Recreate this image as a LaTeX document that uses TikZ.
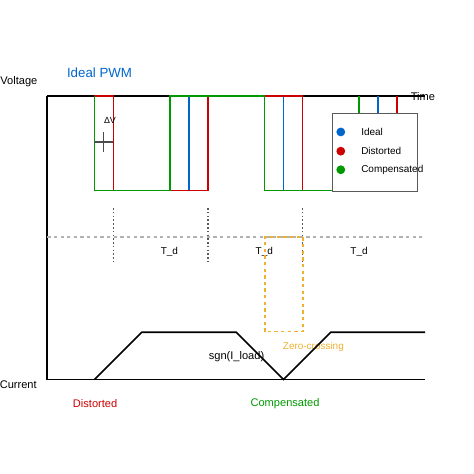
\documentclass[tikz,border=0pt]{standalone}
\usepackage{fontspec}
\setmainfont{Liberation Sans}
\usepackage{color}
\usepackage{tikz}
\usetikzlibrary{positioning}
\definecolor{idealblue}{RGB}{0,102,204}
\definecolor{distred}{RGB}{204,0,0}
\definecolor{compgreen}{RGB}{0,153,0}
\definecolor{zcorange}{RGB}{240,176,48}
\tikzset{
  axisline/.style={line width=1.7pt},
  wave/.style={line width=1.5pt},
  legdot/.style={circle, fill=#1, minimum size=0.28cm, inner sep=0pt},
  deadmark/.style={dotted, line width=1.4pt, gray!70!black},
}

\begin{document}
\begin{tikzpicture}
			\useasboundingbox (0,0) rectangle (15.05,15.05);
			% axes
			\draw[axisline] (1.5,12) -- (13.5,12);
			\draw[axisline] (1.5,12) -- (1.5,3) -- (13.5,3);
			\draw (1.31,12.46) node[anchor=east] (voltage) {Voltage};
			\draw (1.29,2.83) node[anchor=east] (current) {Current};
			\draw (13.43,12.0) node (time) {Time};
			\draw (3.16,12.74) node[text=idealblue] (idealpwm) {\large Ideal PWM};
			
			% gate signals
			\draw[wave, idealblue] (3,12) -- (3,9) -- (6,9) -- (6,12) -- (9,12) -- (9,9) -- (12,9) -- (12,12);
			\draw[wave, distred] (3,12) -- (3.6,12) -- (3.6,9) -- (6.6,9) -- (6.6,12) -- (9.6,12) -- (9.6,9) -- (12.6,9) -- (12.6,12);
			\draw[wave, compgreen] (3,12) -- (3,9) -- (5.4,9) -- (5.4,12) -- (8.4,12) -- (8.4,9) -- (11.4,9) -- (11.4,12);
			
			\draw (3.49,11.24) node (deltav) {\footnotesize ΔV};
			\draw[gray!60!black, line width=1pt] (3,10.54) -- (3.6,10.54);
			\draw[gray!60!black, line width=1pt] (3.3,10.86) -- (3.3,10.22);
			
			% legend
			\draw[fill=white, draw=gray!70!black, line width=1pt] (10.55,8.98) rectangle (13.25,11.45);
			\node[legdot=idealblue] (dotideal) at (10.82,10.86) {};
			\node[legdot=distred] (dotdist) at (10.82,10.25) {};
			\node[legdot=compgreen] (dotcomp) at (10.82,9.66) {};
			\node[right=0.38cm of dotideal] (legideal) {\small Ideal};
			\node[right=0.38cm of dotdist] (legdist) {\small Distorted};
			\node[right=0.38cm of dotcomp] (legcomp) {\small Compensated};
			
			% dead time
			\draw[gray!60, dashed, line width=1.2pt] (1.5,7.52) -- (13.4,7.52);
			\draw[deadmark] (3.6,8.44) -- (3.6,6.73);
			\draw[deadmark] (6.6,8.44) -- (6.6,6.73);
			\draw[deadmark] (9.6,8.44) -- (9.6,6.73);
			\draw (5.38,7.05) node (tdone) {\small T\_d};
			\draw (8.39,7.05) node (tdtwo) {\small T\_d};
			\draw (11.4,7.05) node (tdthree) {\small T\_d};
			
			\draw[zcorange, dashed, line width=1.2pt] (8.41,4.52) rectangle (9.62,7.52);
			\draw (9.95,4.03) node[text=zcorange] (zerocross) {\small Zero-crossing};
			
			% load current
			\draw[line width=1.5pt] (3,3) -- (4.5,4.5) -- (7.5,4.5) -- (9,3) -- (10.5,4.5) -- (13.5,4.5);
			\draw (7.51,3.73) node (sgnload) {sgn(I\_load)};
			\draw (3.02,2.24) node[text=distred] (distlbl) {Distorted};
			\draw (9.05,2.24) node[text=compgreen] (complbl) {Compensated};
		\end{tikzpicture}
\end{document}
